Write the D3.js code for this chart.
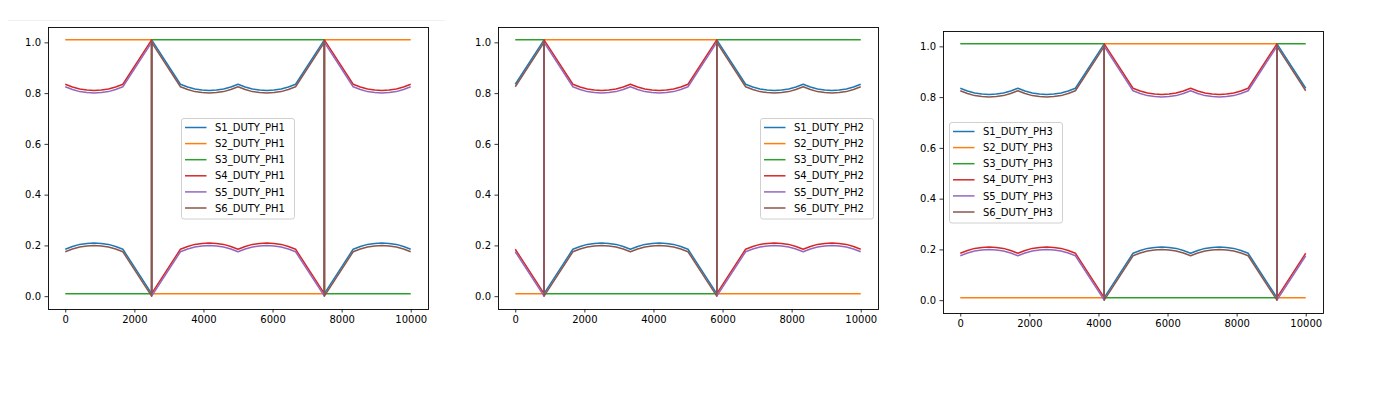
<!DOCTYPE html>
<html>
<head>
<meta charset="utf-8">
<script src="https://cdn.jsdelivr.net/npm/d3@7/dist/d3.min.js"></script>
<style>
  html, body { margin: 0; padding: 0; background: #fff; }
  svg { display: block; }
  text { font-family: "DejaVu Sans", sans-serif; }
</style>
</head>
<body>
<div id="chart"></div>
<script>
// Tick labels
const xTicks = [0, 2000, 4000, 6000, 8000, 10000];
const yTicks = [0.0, 0.2, 0.4, 0.6, 0.8, 1.0];
const seriesNames = ["S1_DUTY", "S2_DUTY", "S3_DUTY", "S4_DUTY", "S5_DUTY", "S6_DUTY"];
const colors = ["#1f77b4", "#ff7f0e", "#2ca02c", "#d62728", "#9467bd", "#8c564b"];

// Phase 1
const xPh1 = [0, 208, 417, 625, 833, 1042, 1250, 1458, 1667, 2500, 2500,
  3333, 3542, 3750, 3958, 4167, 4375, 4583, 4792, 5000, 5208, 5417, 5625, 5833, 6042, 6250, 6458, 6667,
  7500, 7500, 8333, 8542, 8750, 8958, 9167, 9375, 9583, 9792, 10000];
const s1Ph1 = [0.185, 0.196, 0.204, 0.208, 0.21, 0.208, 0.204, 0.196, 0.185, 0.01, 1.01,
  0.835, 0.824, 0.816, 0.812, 0.81, 0.812, 0.816, 0.824, 0.835, 0.824, 0.816, 0.812, 0.81, 0.812, 0.816, 0.824, 0.835,
  1.01, 0.01, 0.185, 0.196, 0.204, 0.208, 0.21, 0.208, 0.204, 0.196, 0.185];
const s4Ph1 = [0.835, 0.824, 0.816, 0.812, 0.81, 0.812, 0.816, 0.824, 0.835, 1.01, 0.01,
  0.185, 0.196, 0.204, 0.208, 0.21, 0.208, 0.204, 0.196, 0.185, 0.196, 0.204, 0.208, 0.21, 0.208, 0.204, 0.196, 0.185,
  0.01, 1.01, 0.835, 0.824, 0.816, 0.812, 0.81, 0.812, 0.816, 0.824, 0.835];
const s5Ph1 = [0.825, 0.814, 0.806, 0.802, 0.80, 0.802, 0.806, 0.814, 0.825, 1.0, 0.0,
  0.175, 0.186, 0.194, 0.198, 0.20, 0.198, 0.194, 0.186, 0.175, 0.186, 0.194, 0.198, 0.20, 0.198, 0.194, 0.186, 0.175,
  0.0, 1.0, 0.825, 0.814, 0.806, 0.802, 0.80, 0.802, 0.806, 0.814, 0.825];
const s6Ph1 = [0.175, 0.186, 0.194, 0.198, 0.20, 0.198, 0.194, 0.186, 0.175, 0.0, 1.0,
  0.825, 0.814, 0.806, 0.802, 0.80, 0.802, 0.806, 0.814, 0.825, 0.814, 0.806, 0.802, 0.80, 0.802, 0.806, 0.814, 0.825,
  1.0, 0.0, 0.175, 0.186, 0.194, 0.198, 0.20, 0.198, 0.194, 0.186, 0.175];
const stepXPh1 = [0, 2500, 2500, 7500, 7500, 10000];
const s2Ph1 = [1.01, 1.01, 0.01, 0.01, 1.01, 1.01];
const s3Ph1 = [0.01, 0.01, 1.01, 1.01, 0.01, 0.01];

// Phase 2
const xPh2 = [0, 833, 833,
  1667, 1875, 2083, 2292, 2500, 2708, 2917, 3125, 3333, 3542, 3750, 3958, 4167, 4375, 4583, 4792, 5000,
  5833, 5833,
  6667, 6875, 7083, 7292, 7500, 7708, 7917, 8125, 8333, 8542, 8750, 8958, 9167, 9375, 9583, 9792, 10000];
const s1Ph2 = [0.835, 1.01, 0.01,
  0.185, 0.196, 0.204, 0.208, 0.21, 0.208, 0.204, 0.196, 0.185, 0.196, 0.204, 0.208, 0.21, 0.208, 0.204, 0.196, 0.185,
  0.01, 1.01,
  0.835, 0.824, 0.816, 0.812, 0.81, 0.812, 0.816, 0.824, 0.835, 0.824, 0.816, 0.812, 0.81, 0.812, 0.816, 0.824, 0.835];
const s4Ph2 = [0.185, 0.01, 1.01,
  0.835, 0.824, 0.816, 0.812, 0.81, 0.812, 0.816, 0.824, 0.835, 0.824, 0.816, 0.812, 0.81, 0.812, 0.816, 0.824, 0.835,
  1.01, 0.01,
  0.185, 0.196, 0.204, 0.208, 0.21, 0.208, 0.204, 0.196, 0.185, 0.196, 0.204, 0.208, 0.21, 0.208, 0.204, 0.196, 0.185];
const s5Ph2 = [0.175, 0.0, 1.0,
  0.825, 0.814, 0.806, 0.802, 0.80, 0.802, 0.806, 0.814, 0.825, 0.814, 0.806, 0.802, 0.80, 0.802, 0.806, 0.814, 0.825,
  1.0, 0.0,
  0.175, 0.186, 0.194, 0.198, 0.20, 0.198, 0.194, 0.186, 0.175, 0.186, 0.194, 0.198, 0.20, 0.198, 0.194, 0.186, 0.175];
const s6Ph2 = [0.825, 1.0, 0.0,
  0.175, 0.186, 0.194, 0.198, 0.20, 0.198, 0.194, 0.186, 0.175, 0.186, 0.194, 0.198, 0.20, 0.198, 0.194, 0.186, 0.175,
  0.0, 1.0,
  0.825, 0.814, 0.806, 0.802, 0.80, 0.802, 0.806, 0.814, 0.825, 0.814, 0.806, 0.802, 0.80, 0.802, 0.806, 0.814, 0.825];
const stepXPh2 = [0, 833, 833, 5833, 5833, 10000];
const s2Ph2 = [0.01, 0.01, 1.01, 1.01, 0.01, 0.01];
const s3Ph2 = [1.01, 1.01, 0.01, 0.01, 1.01, 1.01];

// Phase 3
const xPh3 = [0, 208, 417, 625, 833, 1042, 1250, 1458, 1667, 1875, 2083, 2292, 2500, 2708, 2917, 3125, 3333,
  4167, 4167,
  5000, 5208, 5417, 5625, 5833, 6042, 6250, 6458, 6667, 6875, 7083, 7292, 7500, 7708, 7917, 8125, 8333,
  9167, 9167, 10000];
const s1Ph3 = [0.835, 0.824, 0.816, 0.812, 0.81, 0.812, 0.816, 0.824, 0.835, 0.824, 0.816, 0.812, 0.81, 0.812, 0.816, 0.824, 0.835,
  1.01, 0.01,
  0.185, 0.196, 0.204, 0.208, 0.21, 0.208, 0.204, 0.196, 0.185, 0.196, 0.204, 0.208, 0.21, 0.208, 0.204, 0.196, 0.185,
  0.01, 1.01, 0.835];
const s4Ph3 = [0.185, 0.196, 0.204, 0.208, 0.21, 0.208, 0.204, 0.196, 0.185, 0.196, 0.204, 0.208, 0.21, 0.208, 0.204, 0.196, 0.185,
  0.01, 1.01,
  0.835, 0.824, 0.816, 0.812, 0.81, 0.812, 0.816, 0.824, 0.835, 0.824, 0.816, 0.812, 0.81, 0.812, 0.816, 0.824, 0.835,
  1.01, 0.01, 0.185];
const s5Ph3 = [0.175, 0.186, 0.194, 0.198, 0.20, 0.198, 0.194, 0.186, 0.175, 0.186, 0.194, 0.198, 0.20, 0.198, 0.194, 0.186, 0.175,
  0.0, 1.0,
  0.825, 0.814, 0.806, 0.802, 0.80, 0.802, 0.806, 0.814, 0.825, 0.814, 0.806, 0.802, 0.80, 0.802, 0.806, 0.814, 0.825,
  1.0, 0.0, 0.175];
const s6Ph3 = [0.825, 0.814, 0.806, 0.802, 0.80, 0.802, 0.806, 0.814, 0.825, 0.814, 0.806, 0.802, 0.80, 0.802, 0.806, 0.814, 0.825,
  1.0, 0.0,
  0.175, 0.186, 0.194, 0.198, 0.20, 0.198, 0.194, 0.186, 0.175, 0.186, 0.194, 0.198, 0.20, 0.198, 0.194, 0.186, 0.175,
  0.0, 1.0, 0.825];
const stepXPh3 = [0, 4167, 4167, 9167, 9167, 10000];
const s2Ph3 = [0.01, 0.01, 1.01, 1.01, 0.01, 0.01];
const s3Ph3 = [1.01, 1.01, 0.01, 0.01, 1.01, 1.01];

// Panels: [x, values] pairs in S1..S6 order
const panels = [
  {
    phase: "PH1", box: { left: 48, top: 27, width: 380, height: 282 }, legend: { x: 181, y: 118 },
    series: [[xPh1, s1Ph1], [stepXPh1, s2Ph1], [stepXPh1, s3Ph1], [xPh1, s4Ph1], [xPh1, s5Ph1], [xPh1, s6Ph1]]
  },
  {
    phase: "PH2", box: { left: 498, top: 27, width: 380, height: 282 }, legend: { x: 760, y: 118 },
    series: [[xPh2, s1Ph2], [stepXPh2, s2Ph2], [stepXPh2, s3Ph2], [xPh2, s4Ph2], [xPh2, s5Ph2], [xPh2, s6Ph2]]
  },
  {
    phase: "PH3", box: { left: 943, top: 31, width: 380, height: 282 }, legend: { x: 949, y: 122 },
    series: [[xPh3, s1Ph3], [stepXPh3, s2Ph3], [stepXPh3, s3Ph3], [xPh3, s4Ph3], [xPh3, s5Ph3], [xPh3, s6Ph3]]
  }
];

const width = 1380, height = 398;
const svg = d3.select("#chart")
  .append("svg")
  .attr("width", width)
  .attr("height", height);

// faint rule at the top of the page
svg.append("line")
  .attr("x1", 8).attr("x2", 445)
  .attr("y1", 20.5).attr("y2", 20.5)
  .attr("stroke", "#f0f0f0")
  .attr("stroke-width", 1);

// matplotlib-like 5% margins
const pad = (lo, hi) => { const m = (hi - lo) * 0.05; return [lo - m, hi + m]; };

panels.forEach(p => {
  const { left, top, width: w, height: h } = p.box;
  const allX = p.series.flatMap(s => s[0]);
  const allY = p.series.flatMap(s => s[1]);
  const x = d3.scaleLinear().domain(pad(d3.min(allX), d3.max(allX))).range([0, w]);
  const y = d3.scaleLinear().domain(pad(d3.min(allY), d3.max(allY))).range([h, 0]);

  const g = svg.append("g").attr("transform", `translate(${left},${top})`);

  const line = d3.line()
    .x(d => x(d[0]))
    .y(d => y(d[1]));

  p.series.forEach(([xs, ys], i) => {
    g.append("path")
      .datum(xs.map((v, k) => [v, ys[k]]))
      .attr("d", line)
      .attr("fill", "none")
      .attr("stroke", colors[i])
      .attr("stroke-width", 1.5)
      .attr("stroke-linejoin", "round");
  });

  // axes
  const xAxis = g.append("g")
    .attr("transform", `translate(0,${h})`)
    .call(d3.axisBottom(x).tickValues(xTicks).tickFormat(d3.format("d")).tickSize(3.5).tickPadding(3.5));
  const yAxis = g.append("g")
    .call(d3.axisLeft(y).tickValues(yTicks).tickFormat(d3.format(".1f")).tickSize(3.5).tickPadding(3.5));
  [xAxis, yAxis].forEach(a => {
    a.select(".domain").remove();
    a.selectAll(".tick line").attr("stroke", "#000").attr("stroke-width", 0.8);
    a.selectAll(".tick text")
      .attr("fill", "#000")
      .style("font-family", "'DejaVu Sans', sans-serif")
      .style("font-size", "10px");
  });

  // frame
  g.append("rect")
    .attr("x", 0.5).attr("y", 0.5)
    .attr("width", w).attr("height", h)
    .attr("fill", "none")
    .attr("stroke", "#000")
    .attr("stroke-width", 0.9);

  // legend
  const lg = svg.append("g").attr("transform", `translate(${p.legend.x},${p.legend.y})`);
  lg.append("rect")
    .attr("x", 0.5).attr("y", 0.5)
    .attr("width", 113).attr("height", 100.5)
    .attr("rx", 2.5)
    .attr("fill", "#fff")
    .attr("fill-opacity", 0.8)
    .attr("stroke", "#d0d0d0")
    .attr("stroke-width", 1);
  seriesNames.forEach((name, i) => {
    const cy = 9.5 + i * 16.1;
    lg.append("line")
      .attr("x1", 4).attr("x2", 25.5)
      .attr("y1", cy).attr("y2", cy)
      .attr("stroke", colors[i])
      .attr("stroke-width", 1.5);
    lg.append("text")
      .attr("x", 34)
      .attr("y", cy)
      .attr("dy", "0.36em")
      .style("font-size", "10px")
      .attr("fill", "#000")
      .text(`${name}_${p.phase}`);
  });
});
</script>
</body>
</html>
